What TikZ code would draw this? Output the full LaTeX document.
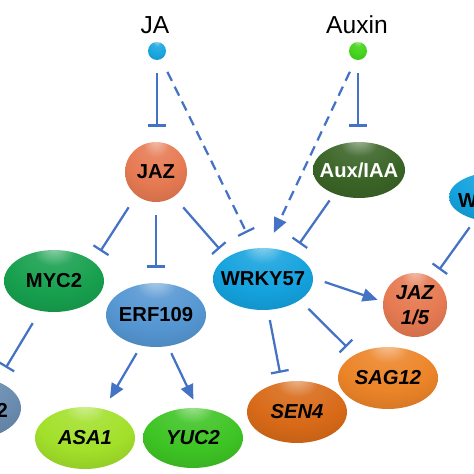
\documentclass[tikz,border=0pt]{standalone}
\usepackage{fontspec}
\setmainfont{Liberation Sans}
\usepackage{xcolor}
\usepackage{tikz}
\usetikzlibrary{shapes.geometric,arrows.meta}
\definecolor{Link}{HTML}{4472C4}
\definecolor{JaDot}{HTML}{1AA6E0}
\definecolor{AuxDot}{HTML}{44D41C}
\definecolor{JazCol}{HTML}{E67A52}
\definecolor{AuxCol}{HTML}{3A6426}
\definecolor{WrkyCol}{HTML}{14A2DE}
\definecolor{MycCol}{HTML}{17A04E}
\definecolor{ErfCol}{HTML}{5596D2}
\definecolor{AsaCol}{HTML}{A2E02A}
\definecolor{YucCol}{HTML}{3EC424}
\definecolor{SenCol}{HTML}{D86A18}
\definecolor{SagCol}{HTML}{EC8428}
\definecolor{EdgeCol}{HTML}{6A8CB0}
\colorlet{nodecol}{white}
\pgfdeclareradialshading[nodecol]{gloss}{\pgfpoint{0bp}{28bp}}{%
  color(0bp)=(nodecol!45!white); color(10bp)=(nodecol!90!white);
  color(24bp)=(nodecol); color(40bp)=(nodecol!86!black);
  color(47bp)=(nodecol!58!black); color(50bp)=(nodecol!70!black)}

\begin{document}
\begin{tikzpicture}[x=0.02cm,y=-0.02cm,
  blob/.style={ellipse,inner ysep=0pt,inner xsep=-0.14cm,minimum width=2cm,minimum height=1.24cm,
    shade,shading=gloss,font=\fontsize{11.5}{14}\selectfont\bfseries},
  gene/.style={font=\fontsize{11.5}{14}\selectfont\bfseries\itshape},
  fill with/.code={\colorlet{nodecol}{#1}},
  hormone/.style={circle,inner sep=0pt,minimum size=0.36cm,shade,shading=gloss},
  tag/.style={font=\fontsize{14}{16}\selectfont},
  link/.style={draw=Link,line width=0.045cm},
  weak/.style={dash pattern=on 0.2cm off 0.13cm},
  inhibit/.style={link,-{Bar[width=0.36cm]}},
  activate/.style={link,-{Triangle[length=0.3cm,width=0.26cm]}}]
  \useasboundingbox (0,0) rectangle (474,474);
  \clip (0,0) rectangle (474,474);

  % hormones
  \node[tag] (jatag) at (155,25) {JA};
  \node[hormone,fill with=JaDot] (ja) at (157,51) {};
  \node[tag] (auxintag) at (357,25) {Auxin};
  \node[hormone,fill with=AuxDot] (auxin) at (358,51) {};

  % repressors
  \node[blob,fill with=JazCol,minimum width=1.24cm,minimum height=1.2cm] (jaz) at (156,172) {JAZ};
  \node[blob,fill with=AuxCol,minimum width=1.84cm,minimum height=1.12cm,text=white] (auxiaa) at (359,170) {Aux/IAA};
  \node[blob,fill with=WrkyCol,minimum width=1.92cm,minimum height=1cm] (wrkyedge) at (497,197) {};
  \node[font=\fontsize{11.5}{14}\selectfont\bfseries,anchor=west] (wrkyedgetxt) at (452,201) {W};

  % transcription factors
  \node[blob,fill with=MycCol] (myc2) at (54,281) {MYC2};
  \node[blob,fill with=ErfCol,minimum height=1.28cm] (erf109) at (156,315) {ERF109};
  \node[blob,fill with=WrkyCol] (wrky57) at (263,279) {WRKY57};
  \node[blob,gene,fill with=JazCol,minimum width=1.28cm,minimum height=1.28cm,align=center] (jaz15) at (415,305) {JAZ\\1/5};
  \node[blob,fill with=EdgeCol] (edgeleft) at (-29,408) {};
  \node[font=\fontsize{11.5}{14}\selectfont\bfseries,anchor=east] (edgelefttxt) at (14,410) {2};

  % target genes
  \node[blob,gene,fill with=AsaCol] (asa1) at (85,438) {ASA1};
  \node[blob,gene,fill with=YucCol,minimum height=1.2cm] (yuc2) at (193,438) {YUC2};
  \node[blob,gene,fill with=SenCol] (sen4) at (297,412) {SEN4};
  \node[blob,gene,fill with=SagCol] (sag12) at (388,378) {SAG12};

  % hormone signalling
  \draw[inhibit,shorten <=0.26cm,shorten >=0.3cm] (ja.south) -- (ja.south |- jaz.north);
  \draw[inhibit,weak,shorten <=0.28cm,shorten >=0.34cm] (ja.-63) -- (wrky57.106);
  \draw[activate,weak,shorten <=0.26cm,shorten >=0.33cm] (auxin.-106) -- (wrky57.83);
  \draw[inhibit,shorten <=0.26cm,shorten >=0.3cm] (auxin.south) -- (auxin.south |- auxiaa.north);

  % repressor targets
  \draw[inhibit,shorten <=0.28cm,shorten >=0.25cm] (jaz.230) -- (myc2.26);
  \draw[inhibit,shorten <=0.26cm,shorten >=0.3cm] (jaz.south) -- (jaz.south |- erf109.north);
  \draw[inhibit,shorten <=0.28cm,shorten >=0.22cm] (jaz.-54) -- (wrky57.149);
  \draw[inhibit,shorten <=0.16cm,shorten >=0.24cm] (auxiaa.224) -- (wrky57.41);
  \draw[inhibit,shorten <=0.19cm,shorten >=0.21cm] (wrkyedge.226) -- (jaz15.56);

  % downstream
  \draw[activate,shorten <=0.24cm,shorten >=0.11cm] (wrky57.1) -- (jaz15.174);
  \draw[inhibit,shorten <=0.2cm,shorten >=0.19cm] (wrky57.-81) -- (sen4.117);
  \draw[inhibit,shorten <=0.24cm,shorten >=0.22cm] (wrky57.-30) -- (sag12.145);
  \draw[activate,shorten <=0.17cm,shorten >=0.24cm] (erf109.-116) -- (asa1.57);
  \draw[activate,shorten <=0.15cm,shorten >=0.18cm] (erf109.-69) -- (yuc2.82);
  \draw[inhibit,shorten <=0.28cm,shorten >=0.32cm] (myc2.-115) -- (edgeleft.45);
\end{tikzpicture}
\end{document}
